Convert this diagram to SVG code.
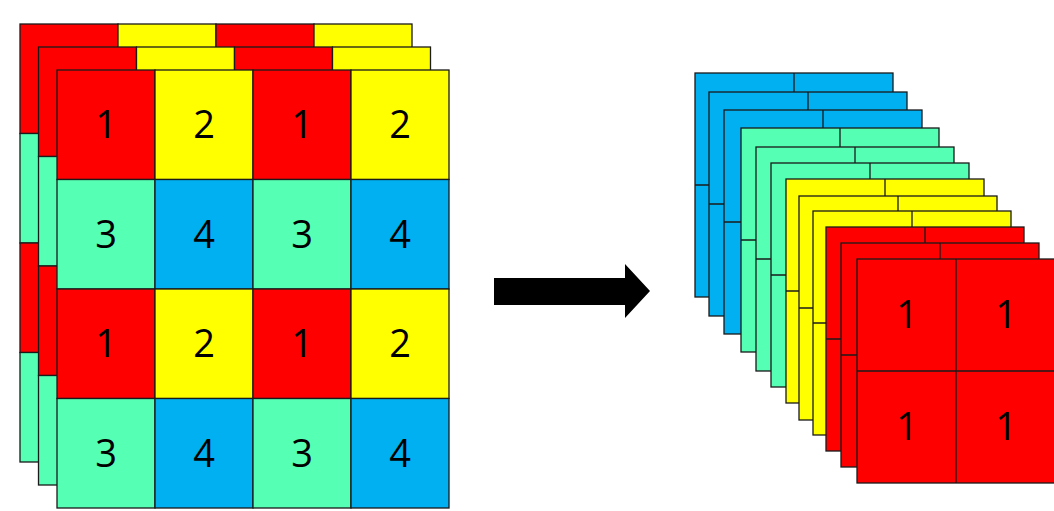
<svg xmlns="http://www.w3.org/2000/svg" width="1054" height="511" viewBox="0 0 1054 511">
<style>
rect{stroke:#1a1a1a;stroke-width:1.3}
.r{fill:#ff0000}.y{fill:#ffff00}.g{fill:#55ffb4}.b{fill:#00b0f0}
line{stroke:#1a1a1a;stroke-width:1.3}
text{font-family:"Open Sans","Noto Sans",sans-serif;font-size:38px;fill:#000;text-anchor:middle}
</style>
<defs>
<g id="big">
<rect class="r" x="0" y="0" width="98" height="109.5"/><rect class="y" x="98" y="0" width="98" height="109.5"/><rect class="r" x="196" y="0" width="98" height="109.5"/><rect class="y" x="294" y="0" width="98" height="109.5"/>
<rect class="g" x="0" y="109.5" width="98" height="109.5"/><rect class="b" x="98" y="109.5" width="98" height="109.5"/><rect class="g" x="196" y="109.5" width="98" height="109.5"/><rect class="b" x="294" y="109.5" width="98" height="109.5"/>
<rect class="r" x="0" y="219" width="98" height="109.5"/><rect class="y" x="98" y="219" width="98" height="109.5"/><rect class="r" x="196" y="219" width="98" height="109.5"/><rect class="y" x="294" y="219" width="98" height="109.5"/>
<rect class="g" x="0" y="328.5" width="98" height="109.5"/><rect class="b" x="98" y="328.5" width="98" height="109.5"/><rect class="g" x="196" y="328.5" width="98" height="109.5"/><rect class="b" x="294" y="328.5" width="98" height="109.5"/>
</g>
<g id="sb"><rect class="b" width="198" height="224"/><line x1="99" y1="0" x2="99" y2="224"/><line x1="0" y1="112" x2="198" y2="112"/></g>
<g id="sg"><rect class="g" width="198" height="224"/><line x1="99" y1="0" x2="99" y2="224"/><line x1="0" y1="112" x2="198" y2="112"/></g>
<g id="sy"><rect class="y" width="198" height="224"/><line x1="99" y1="0" x2="99" y2="224"/><line x1="0" y1="112" x2="198" y2="112"/></g>
<g id="sr"><rect class="r" width="198" height="224"/><line x1="99" y1="0" x2="99" y2="224"/><line x1="0" y1="112" x2="198" y2="112"/></g>
</defs>
<g id="input">
<use href="#big" x="20" y="24"/>
<use href="#big" x="38.5" y="47"/>
<use href="#big" x="57" y="70"/>
<text x="106" y="138">1</text><text x="204" y="138">2</text><text x="302" y="138">1</text><text x="400" y="138">2</text>
<text x="106" y="248">3</text><text x="204" y="248">4</text><text x="302" y="248">3</text><text x="400" y="248">4</text>
<text x="106" y="357">1</text><text x="204" y="357">2</text><text x="302" y="357">1</text><text x="400" y="357">2</text>
<text x="106" y="467">3</text><text x="204" y="467">4</text><text x="302" y="467">3</text><text x="400" y="467">4</text>
</g>
<g id="connectors">
<polygon points="494,278 625,278 625,264 650,291 625,318 625,305 494,305" fill="#000"/>
</g>
<g id="output">
<use href="#sb" x="695" y="73"/>
<use href="#sb" x="709" y="92"/>
<use href="#sb" x="724" y="110"/>
<use href="#sg" x="741" y="128"/>
<use href="#sg" x="756" y="147"/>
<use href="#sg" x="771" y="163"/>
<use href="#sy" x="786" y="179"/>
<use href="#sy" x="799" y="196"/>
<use href="#sy" x="813" y="211"/>
<use href="#sr" x="826" y="227"/>
<use href="#sr" x="841" y="243"/>
<use href="#sr" x="857" y="259"/>
<text x="907" y="328">1</text><text x="1006" y="328">1</text>
<text x="907" y="440">1</text><text x="1006" y="440">1</text>
</g>
</svg>
